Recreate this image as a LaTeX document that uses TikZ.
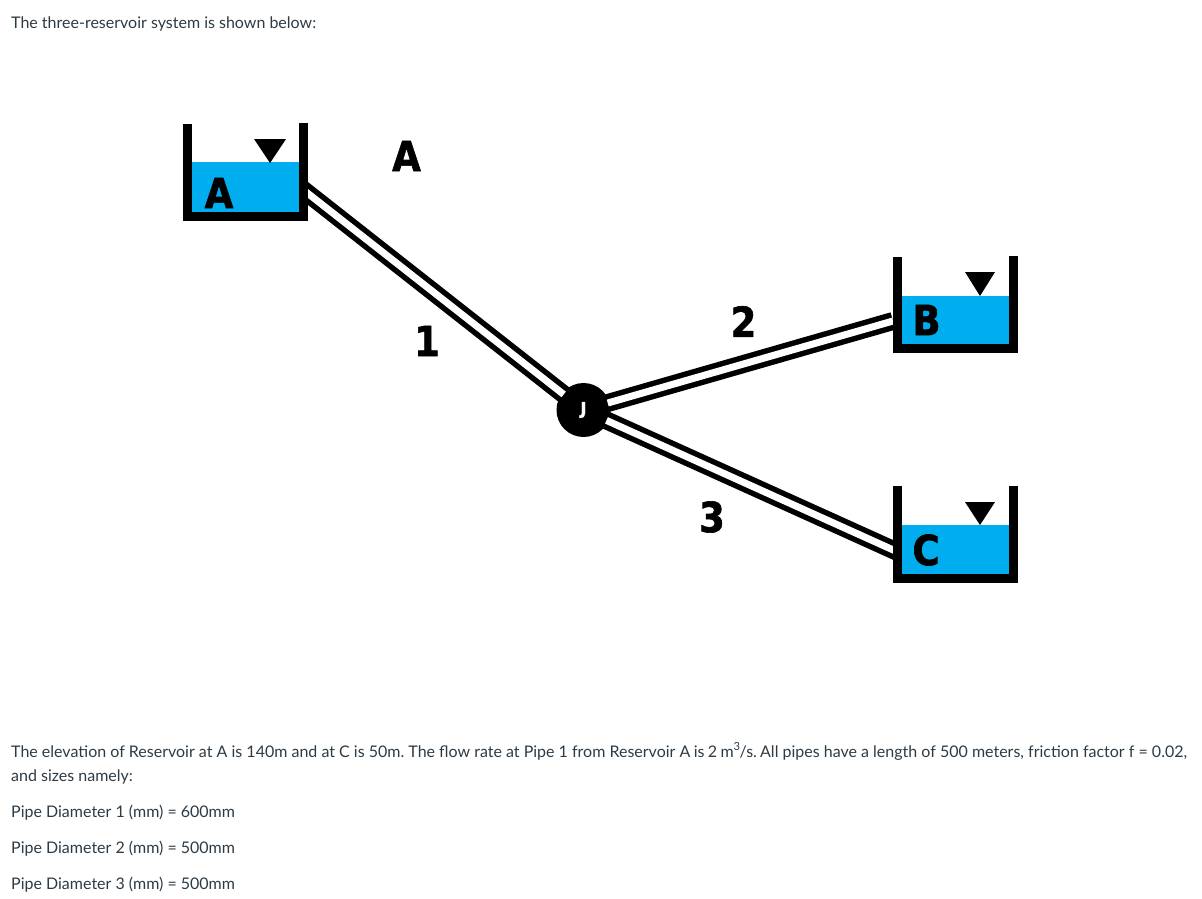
\documentclass[tikz,border=0pt]{standalone}
\usepackage{fontspec}
\setmainfont{Lato}
\frenchspacing
\newfontfamily\labelfont{DejaVu Sans Bold}[FakeBold=1.6]
\definecolor{water}{HTML}{00AEEF}
\definecolor{bodyink}{HTML}{2D3B45}
\tikzset{
  wallline/.style={line width=9pt,line cap=butt,line join=miter},
  pipeline/.style={double=white,line width=5.5pt,double distance=7pt,draw=black},
  levelmark/.style={fill=black,draw=none},
  biglabel/.style={font=\labelfont\fontsize{37}{37}\selectfont,text=black,inner sep=0pt,yscale=1.12},
  bodytext/.style={anchor=base west,inner sep=0pt,text=bodyink,font=\fontsize{16}{19}\selectfont},
  junction/.style={circle,fill=black,draw=none,minimum size=54pt,inner sep=0pt,text=white,font=\labelfont\fontsize{17}{17}\selectfont}
}
\begin{document}
\begin{tikzpicture}[x=1pt,y=-1pt]
\useasboundingbox (0,0) rectangle (1202,899);
% outlets and junction
\coordinate (outA) at (302,188.8);
\coordinate (outB) at (893,321);
\coordinate (outC) at (899,552.6);
\node[junction] (J) at (583.5,410) {J};
\draw[pipeline,shorten >=-2pt] (outA) -- (J);
\draw[pipeline,shorten >=-2pt] (outB) -- (J);
\draw[pipeline,shorten >=-2pt] (outC) -- (J);
% reservoirs
\fill[water] (192,162) rectangle (299,212);
\fill[water] (902,296) rectangle (1009,344);
\fill[water] (902,525) rectangle (1009,574);
\draw[wallline] (187.5,124) -- (187.5,216.5) -- (303.5,216.5) -- (303.5,123);
\draw[wallline] (897.5,257) -- (897.5,348.5) -- (1013.5,348.5) -- (1013.5,256);
\draw[wallline] (897.5,486) -- (897.5,578.5) -- (1013.5,578.5) -- (1013.5,486);
\fill[levelmark] (254,139) -- (286,139) -- (270,163) -- cycle;
\fill[levelmark] (965,272) -- (995,272) -- (980,296) -- cycle;
\fill[levelmark] (965,502) -- (995,502) -- (980,525) -- cycle;
% labels
\node[biglabel] (resA) at (219,193) {A};
\node[biglabel] (resB) at (926.5,320) {B};
\node[biglabel] (resC) at (926,550) {C};
\node[biglabel] (topA) at (406.5,156) {A};
\node[biglabel] (p1) at (427,341) {1};
\node[biglabel] (p2) at (743.5,321.5) {2};
\node[biglabel] (p3) at (712,517) {3};
% text
\node[bodytext] (t1) at (11,29) {The three-reservoir system is shown below:};
\node[bodytext] (t2) at (11,757) {The elevation of Reservoir at A is 140m and at C is 50m. The flow rate at Pipe 1 from Reservoir A\kern-0.7pt{} is\kern-0.7pt{} 2\kern-0.7pt{} m\textsuperscript{3}\kern-1pt{}/s.\kern-0.9pt{} All pipes have a length of 500 meters, friction factor f = 0.02,};
\node[bodytext] (t3) at (11,781) {and sizes namely:};
\node[bodytext] (t4) at (11,817) {Pipe Diameter 1 (mm) = 600mm};
\node[bodytext] (t5) at (11,853) {Pipe Diameter 2 (mm) = 500mm};
\node[bodytext] (t6) at (11,889) {Pipe Diameter 3 (mm) = 500mm};
\end{tikzpicture}
\end{document}
